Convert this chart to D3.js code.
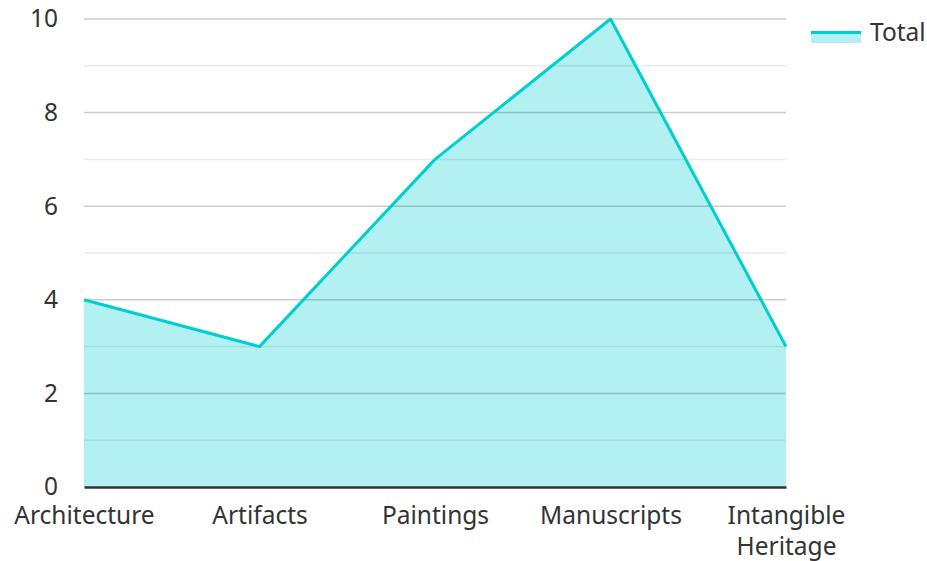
<!DOCTYPE html>
<html>
<head>
<meta charset="utf-8">
<script src="https://cdn.jsdelivr.net/npm/d3@7"></script>
<style>
  body { margin: 0; background: #fff; }
  text { font-family: "Noto Sans", sans-serif; fill: #333; }
</style>
</head>
<body>
<svg id="chart" width="927" height="561"></svg>
<script>
const categories = ['Architecture', 'Artifacts', 'Paintings', 'Manuscripts', 'Intangible Heritage'];
const totals = [4, 3, 7, 10, 3];
const yTicks = [0, 2, 4, 6, 8, 10];
const minorTicks = [1, 3, 5, 7, 9];
const seriesName = 'Total';

const svg = d3.select('#chart');
const m = {top: 19, right: 141, bottom: 74, left: 84};
const w = 927 - m.left - m.right;
const h = 561 - m.top - m.bottom;
const color = '#00ced1';
const fs = '24.5px';

const g = svg.append('g').attr('transform', 'translate(' + m.left + ',' + m.top + ')');

const x = d3.scalePoint().domain(categories).range([0, w]).padding(0);
const y = d3.scaleLinear().domain([0, 10]).range([h, 0]);

const area = d3.area()
    .x((d, i) => x(categories[i]))
    .y0(h)
    .y1(d => y(d));
const line = d3.line()
    .x((d, i) => x(categories[i]))
    .y(d => y(d));

g.append('path')
    .datum(totals)
    .attr('d', area)
    .attr('fill', color)
    .attr('fill-opacity', 0.3);

// grid drawn over the fill
g.selectAll('.minor')
    .data(minorTicks)
    .enter()
    .append('line')
    .attr('x1', 0).attr('x2', w)
    .attr('y1', d => y(d)).attr('y2', d => y(d))
    .attr('stroke', '#000').attr('stroke-opacity', 0.08).attr('stroke-width', 1.5);

g.selectAll('.major')
    .data(yTicks.filter(d => d > 0))
    .enter()
    .append('line')
    .attr('x1', 0).attr('x2', w)
    .attr('y1', d => y(d)).attr('y2', d => y(d))
    .attr('stroke', '#000').attr('stroke-opacity', 0.2).attr('stroke-width', 1.5);

g.append('path')
    .datum(totals)
    .attr('d', line)
    .attr('fill', 'none')
    .attr('stroke', color)
    .attr('stroke-width', 3)
    .attr('stroke-linejoin', 'round');

// y axis labels
const yAxis = d3.axisLeft(y).tickValues(yTicks).tickSize(0).tickPadding(26);
const ya = g.append('g').call(yAxis);
ya.select('.domain').remove();
ya.selectAll('text').style('font-size', fs).attr('fill', '#333')
    .attr('font-family', '"Noto Sans", sans-serif');

// x axis
const xAxis = d3.axisBottom(x).tickSize(0).tickPadding(20);
const xa = g.append('g').attr('transform', 'translate(0,' + h + ')').call(xAxis);
xa.select('.domain').attr('stroke', '#333').attr('stroke-width', 2.5);
xa.selectAll('text')
    .style('font-size', fs)
    .attr('fill', '#333')
    .attr('font-family', '"Noto Sans", sans-serif')
    .each(function(d) {
      const t = d3.select(this);
      if (d.indexOf(' ') > 0) {
        const parts = d.split(' ');
        t.text(null);
        parts.forEach((p, i) => {
          t.append('tspan').attr('x', 0).attr('dy', i === 0 ? '0.71em' : '1.24em').text(p);
        });
        t.attr('dy', null);
      }
    });

// legend
const lg = svg.append('g').attr('transform', 'translate(811,31)');
lg.append('rect').attr('x', 0).attr('y', 0).attr('width', 50).attr('height', 12)
    .attr('fill', color).attr('fill-opacity', 0.3);
lg.append('line').attr('x1', 0).attr('x2', 50).attr('y1', 1.5).attr('y2', 1.5)
    .attr('stroke', color).attr('stroke-width', 3);
lg.append('text').attr('x', 59).attr('y', 1).attr('dy', '0.35em')
    .style('font-size', fs).text(seriesName);
</script>
</body>
</html>
